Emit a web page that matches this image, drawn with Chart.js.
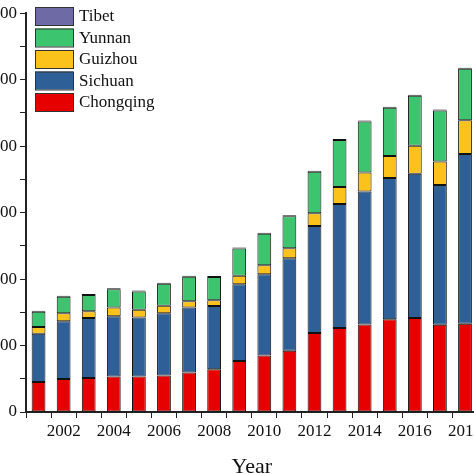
<!DOCTYPE html>
<html><head><script src="https://cdn.jsdelivr.net/npm/chart.js@4"></script>
<style>html,body{margin:0;padding:0;overflow:hidden;width:474px;height:474px;background:#fff}#w{position:absolute;left:-40px;top:0;width:525px;height:484px}</style></head>
<body><div id="w"><canvas id="c"></canvas></div>
<script>
const years=['2001','2002','2003','2004','2005','2006','2007','2008','2009','2010','2011','2012','2013','2014','2015','2016','2017','2018'];
const chongqing=[450,495,510,535,535,550,594,644,767,851,921,1188,1262,1317,1396,1416,1312,1327];
const sichuan=[728,871,906,906,886,935,980,950,1154,1223,1391,1609,1867,2000,2124,2168,2104,2554];
const guizhou=[99,119,99,133,119,114,94,89,129,134,153,193,257,287,331,421,351,510];
const yunnan=[233,248,247,273,272,332,367,347,410,475,481,624,708,767,728,752,768,772];
const tibet=[15,15,15,15,15,15,15,15,15,15,15,15,15,15,15,15,15,15];
const yTicks=[0,1000,2000,3000,4000,5000,6000];
const F='"Liberation Serif", serif';
const series=[['Chongqing',chongqing,'#e60000'],['Sichuan',sichuan,'#2f5f97'],['Guizhou',guizhou,'#fcc21c'],['Yunnan',yunnan,'#3dc46f'],['Tibet',tibet,'#6d6aa6']];
const legendPlugin={id:'lg',afterDraw(ch){const c=ch.ctx;const order=series.slice().reverse();c.save();c.font='17px '+F;c.textBaseline='middle';
order.forEach((s,i)=>{const x=75,y=7+i*21.5;c.fillStyle=s[2];c.fillRect(x,y,38,18);c.strokeStyle='#333';c.lineWidth=1;c.strokeRect(x+.5,y+.5,38,18);c.fillStyle='#111';c.fillText(s[0],x+44,y+10);});c.restore();}};
new Chart(document.getElementById('c'),{type:'bar',
data:{labels:years,datasets:series.map(s=>({label:s[0],data:s[1],backgroundColor:s[2],borderColor:'#111',borderWidth:1,borderSkipped:false,categoryPercentage:1,barPercentage:0.55}))},
options:{responsive:true,maintainAspectRatio:false,animation:false,layout:{padding:{top:8,right:0}},
plugins:{legend:{display:false},tooltip:{enabled:false}},
scales:{x:{stacked:true,afterFit(a){a.height=72},grid:{drawOnChartArea:false,tickLength:6,color:'#222'},border:{color:'#222',width:2},
ticks:{color:'#111',font:{family:F,size:17},maxRotation:0,autoSkip:false,callback:(v,i)=>i%2===1?years[i]:''},
title:{display:true,text:'Year',color:'#111',font:{family:F,size:22},padding:{top:16}}},
y:{stacked:true,min:0,max:6000,afterFit(a){a.width=66},afterBuildTicks(a){a.ticks=[];for(let v=0;v<=6000;v+=500)a.ticks.push({value:v});},
grid:{drawOnChartArea:false,tickLength:6,color:'#222'},border:{color:'#222',width:2},
ticks:{color:'#111',font:{family:F,size:17},callback:v=>yTicks.includes(v)?String(v):''}}}},
plugins:[legendPlugin]});
</script></body></html>
